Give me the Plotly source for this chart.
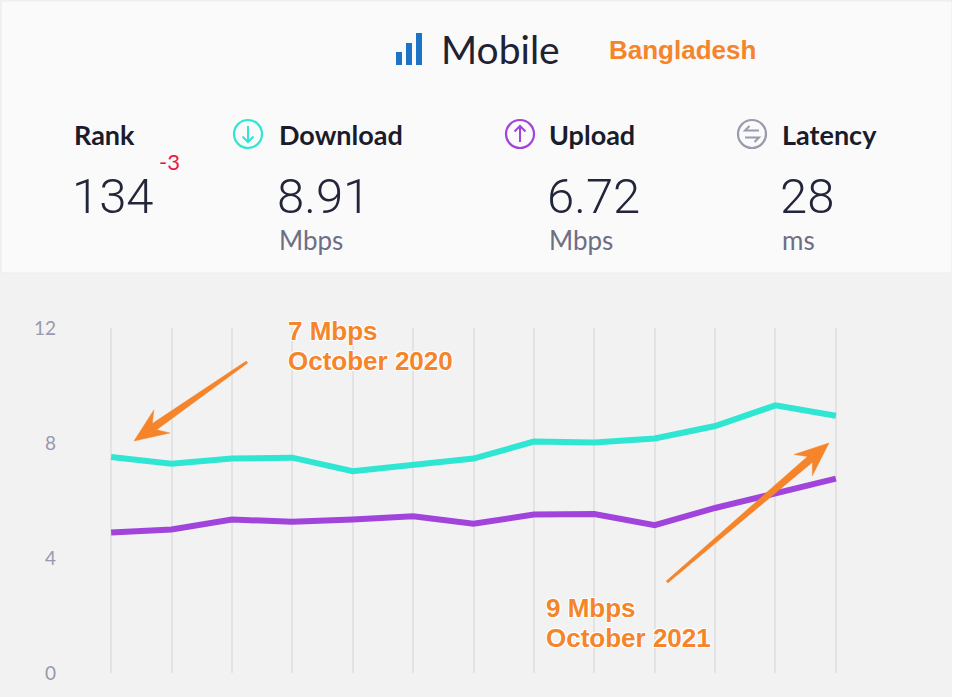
import math
import plotly.graph_objects as go

# Data
months = ["Oct 2020", "Nov 2020", "Dec 2020", "Jan 2021", "Feb 2021", "Mar 2021", "Apr 2021",
          "May 2021", "Jun 2021", "Jul 2021", "Aug 2021", "Sep 2021", "Oct 2021"]
download = [7.51, 7.28, 7.46, 7.49, 7.02, 7.26, 7.46, 8.05, 8.02, 8.16, 8.59, 9.31, 8.95]
upload = [4.89, 4.99, 5.34, 5.26, 5.34, 5.45, 5.19, 5.51, 5.53, 5.14, 5.74, 6.27, 6.76]
y_ticks = [0, 4, 8, 12]

stat_labels = ["Rank", "Download", "Upload", "Latency"]
stat_values = ["134", "8.91", "6.72", "28"]
stat_units = ["", "Mbps", "Mbps", "ms"]
rank_change = "-3"

W, H = 960, 697
ML, MR, MT, MB = 93, 106, 328, 24
PW, PH = W - ML - MR, H - MT - MB

TEAL = "#2fe6d2"
PURPLE = "#a044dc"
ORANGE = "#f5842a"
GREY_ICON = "#9a9aae"


def fx(px):
    return (px - ML) / PW


def fy(py):
    return (H - MB - py) / PH


def rect(x0, y0, x1, y1, fill, line=None, layer="above"):
    return dict(type="rect", xref="paper", yref="paper",
                x0=fx(x0), x1=fx(x1), y0=fy(y0), y1=fy(y1),
                fillcolor=fill, line=dict(width=1 if line else 0, color=line or fill),
                layer=layer)


def circle(cx, cy, r, color):
    return dict(type="circle", xref="paper", yref="paper",
                x0=fx(cx - r), x1=fx(cx + r), y0=fy(cy - r), y1=fy(cy + r),
                line=dict(color=color, width=2.2))


def path(points, color, width=2, fill=None, closed=False):
    d = "M " + " L ".join(f"{fx(x):.5f},{fy(y):.5f}" for x, y in points)
    if closed:
        d += " Z"
    s = dict(type="path", xref="paper", yref="paper", path=d,
             line=dict(color=color, width=width))
    if fill:
        s["fillcolor"] = fill
    return s


def fat_arrow(tail, tip, color):
    # tapered shaft with a notched head, in pixels
    dx, dy = tip[0] - tail[0], tip[1] - tail[1]
    ln = math.hypot(dx, dy)
    ux, uy = dx / ln, dy / ln
    nx, ny = -uy, ux
    head, hw, w0, w1 = 31, 14, 1.2, 3.8

    def pt(along, side):
        return (tail[0] + ux * along + nx * side, tail[1] + uy * along + ny * side)

    pts = [pt(0, w0), pt(ln - head + 6, w1), pt(ln - head - 3, hw), pt(ln, 0),
           pt(ln - head - 3, -hw), pt(ln - head + 6, -w1), pt(0, -w0)]
    return path(pts, color, width=0.5, fill=color, closed=True)


fig = go.Figure()

fig.add_trace(go.Scatter(x=months, y=download, mode="lines", name="Download",
                         line=dict(color=TEAL, width=6)))
fig.add_trace(go.Scatter(x=months, y=upload, mode="lines", name="Upload",
                         line=dict(color=PURPLE, width=6)))

shapes = [
    rect(1, 1, 952, 273, "#fafafa", line="#ececec", layer="below"),
    rect(952, 0, 961, 698, "#ffffff", layer="below"),
    # mobile bars icon
    rect(396, 52, 402, 65, "#1b74c6"),
    rect(406, 43, 412, 65, "#1b74c6"),
    rect(416, 33, 422, 65, "#1b74c6"),
    # download icon
    circle(248, 134, 14, TEAL),
    path([(248, 126), (248, 142)], TEAL),
    path([(242.5, 136.5), (248, 142), (253.5, 136.5)], TEAL),
    # upload icon
    circle(520, 134, 14, PURPLE),
    path([(520, 142), (520, 126)], PURPLE),
    path([(514.5, 131.5), (520, 126), (525.5, 131.5)], PURPLE),
    # latency icon
    circle(752, 134, 14, GREY_ICON),
    path([(759, 130.5), (745, 130.5), (749.5, 126)], GREY_ICON),
    path([(745, 137.5), (759, 137.5), (754.5, 142)], GREY_ICON),
    # callout arrows
    fat_arrow((247, 362), (134, 441), ORANGE),
    fat_arrow((667, 582), (829, 443), ORANGE),
]

annotations = [
    dict(text="Mobile", x=fx(439), y=fy(49), xanchor="left", yanchor="middle",
         font=dict(family="Lato", size=39, color="#1f2233")),
    dict(text="<b>Bangladesh</b>", x=fx(607), y=fy(50), xanchor="left", yanchor="middle",
         font=dict(family="Liberation Sans", size=26, color=ORANGE)),
]

label_x = [73, 278, 548, 781]
for lx, lab, val, unit in zip(label_x, stat_labels, stat_values, stat_units):
    annotations.append(dict(text=lab, x=fx(lx - 1), y=fy(134), xanchor="left", yanchor="middle",
                            font=dict(family="Lato", size=27, color="#1a1c2b", weight=700)))
    annotations.append(dict(text=val, x=fx(lx - 3), y=fy(196), xanchor="left", yanchor="middle",
                            font=dict(family="Roboto", size=49, color="#23253a", weight=300)))
    if unit:
        annotations.append(dict(text=unit, x=fx(lx - 1), y=fy(240), xanchor="left",
                                yanchor="middle",
                                font=dict(family="Lato", size=26, color="#6e6e84")))

annotations.append(dict(text=rank_change, x=fx(157), y=fy(161), xanchor="left", yanchor="middle",
                        font=dict(family="Lato", size=22, color="#e8173f")))

halo = "-1px -1px 0 #fff, 1px -1px 0 #fff, -1px 1px 0 #fff, 1px 1px 0 #fff"
callouts = [("7 Mbps", 286, 331), ("October 2020", 286, 361),
            ("9 Mbps", 544, 608), ("October 2021", 544, 638)]
for txt, tx, ty in callouts:
    annotations.append(dict(text=f"<b>{txt}</b>", x=fx(tx), y=fy(ty), xanchor="left",
                            yanchor="middle",
                            font=dict(family="Liberation Sans", size=26, color=ORANGE,
                                      shadow=halo)))

for a in annotations:
    a.setdefault("xref", "paper")
    a.setdefault("yref", "paper")
    a.setdefault("showarrow", False)

fig.update_layout(
    width=W, height=H,
    margin=dict(l=ML, r=MR, t=MT, b=MB),
    paper_bgcolor="#f2f2f2",
    plot_bgcolor="#f2f2f2",
    showlegend=False,
    shapes=shapes,
    annotations=annotations,
    xaxis=dict(type="category", range=[-0.3, 12.3], showticklabels=False, showgrid=True,
               gridcolor="#e3e3e3", gridwidth=1.5, zeroline=False, showline=False, ticks=""),
    yaxis=dict(range=[0, 12], tickvals=y_ticks, showgrid=False, zeroline=False, showline=False,
               ticklabelstandoff=36,
               tickfont=dict(family="Lato", size=19, color="#9898ae")),
)

fig.write_html("out.html", config={"displayModeBar": False},
               post_script="document.body.style.margin='0px';")
